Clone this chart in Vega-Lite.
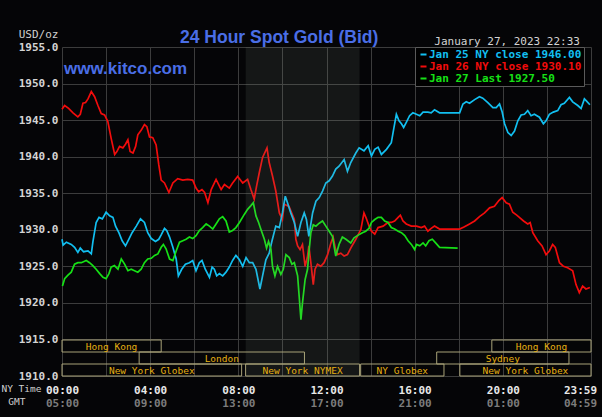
{
"$schema": "https://vega.github.io/schema/vega-lite/v6.json",
"width": 529, "height": 329,
"autosize": "none",
"padding": {"left": 62, "top": 47, "right": 11, "bottom": 41},
"background": "#050507",
"title": {"text": "24 Hour Spot Gold (Bid)", "color": "#4a6ee6", "font": "Liberation Sans", "fontSize": 17.5, "fontWeight": "bold", "anchor": "start", "frame": "group", "dx": 118, "offset": -32, "baseline": "alphabetic"},
"config": {
  "view": {"stroke": null},
  "axis": {"domain": false, "ticks": false, "labelFont": "DejaVu Sans Mono", "labelFontWeight": "bold", "labelFontSize": 11, "gridColor": "#3c3c3c", "gridWidth": 1, "titleFont": "DejaVu Sans Mono", "titleFontWeight": "normal"}
},
"datasets": {
"gold": [
{"series":"Jan 26","hour":0,"price":1946.5},{"series":"Jan 26","hour":0.12,"price":1947.0},{"series":"Jan 26","hour":0.3,"price":1946.6},{"series":"Jan 26","hour":0.5,"price":1946.0},{"series":"Jan 26","hour":0.72,"price":1945.45},{"series":"Jan 26","hour":0.83,"price":1945.8},{"series":"Jan 26","hour":0.95,"price":1947.3},{"series":"Jan 26","hour":1.07,"price":1947.4},{"series":"Jan 26","hour":1.18,"price":1947.9},{"series":"Jan 26","hour":1.33,"price":1948.9},{"series":"Jan 26","hour":1.48,"price":1948.2},{"series":"Jan 26","hour":1.63,"price":1947.0},{"series":"Jan 26","hour":1.78,"price":1945.9},{"series":"Jan 26","hour":1.93,"price":1945.7},{"series":"Jan 26","hour":2.08,"price":1944.8},{"series":"Jan 26","hour":2.23,"price":1942.5},{"series":"Jan 26","hour":2.39,"price":1940.3},{"series":"Jan 26","hour":2.49,"price":1940.7},{"series":"Jan 26","hour":2.61,"price":1941.4},{"series":"Jan 26","hour":2.76,"price":1941.2},{"series":"Jan 26","hour":2.88,"price":1941.7},{"series":"Jan 26","hour":2.99,"price":1942.3},{"series":"Jan 26","hour":3.09,"price":1940.7},{"series":"Jan 26","hour":3.22,"price":1940.5},{"series":"Jan 26","hour":3.34,"price":1941.4},{"series":"Jan 26","hour":3.44,"price":1943.0},{"series":"Jan 26","hour":3.59,"price":1943.6},{"series":"Jan 26","hour":3.74,"price":1944.4},{"series":"Jan 26","hour":3.85,"price":1944.1},{"series":"Jan 26","hour":3.97,"price":1942.7},{"series":"Jan 26","hour":4.12,"price":1942.6},{"series":"Jan 26","hour":4.27,"price":1941.6},{"series":"Jan 26","hour":4.39,"price":1938.9},{"series":"Jan 26","hour":4.5,"price":1936.8},{"series":"Jan 26","hour":4.65,"price":1936.4},{"series":"Jan 26","hour":4.85,"price":1935.1},{"series":"Jan 26","hour":5.03,"price":1936.4},{"series":"Jan 26","hour":5.25,"price":1937.0},{"series":"Jan 26","hour":5.48,"price":1936.8},{"series":"Jan 26","hour":5.7,"price":1936.9},{"series":"Jan 26","hour":5.93,"price":1936.8},{"series":"Jan 26","hour":6.08,"price":1935.7},{"series":"Jan 26","hour":6.2,"price":1935.2},{"series":"Jan 26","hour":6.35,"price":1935.5},{"series":"Jan 26","hour":6.47,"price":1935.1},{"series":"Jan 26","hour":6.62,"price":1933.7},{"series":"Jan 26","hour":6.77,"price":1935.5},{"series":"Jan 26","hour":6.99,"price":1936.9},{"series":"Jan 26","hour":7.22,"price":1935.5},{"series":"Jan 26","hour":7.37,"price":1936.2},{"series":"Jan 26","hour":7.59,"price":1935.7},{"series":"Jan 26","hour":7.74,"price":1936.4},{"series":"Jan 26","hour":7.97,"price":1937.3},{"series":"Jan 26","hour":8.2,"price":1936.4},{"series":"Jan 26","hour":8.42,"price":1936.9},{"series":"Jan 26","hour":8.57,"price":1935.5},{"series":"Jan 26","hour":8.72,"price":1934.2},{"series":"Jan 26","hour":8.83,"price":1936.0},{"series":"Jan 26","hour":8.95,"price":1937.8},{"series":"Jan 26","hour":9.1,"price":1939.9},{"series":"Jan 26","hour":9.3,"price":1941.2},{"series":"Jan 26","hour":9.4,"price":1939.2},{"series":"Jan 26","hour":9.55,"price":1937.35},{"series":"Jan 26","hour":9.7,"price":1935.3},{"series":"Jan 26","hour":9.86,"price":1932.3},{"series":"Jan 26","hour":10.0,"price":1931.4},{"series":"Jan 26","hour":10.08,"price":1933.5},{"series":"Jan 26","hour":10.3,"price":1933.2},{"series":"Jan 26","hour":10.54,"price":1931.4},{"series":"Jan 26","hour":10.61,"price":1928.7},{"series":"Jan 26","hour":10.69,"price":1927.8},{"series":"Jan 26","hour":10.8,"price":1927.3},{"series":"Jan 26","hour":10.91,"price":1928.0},{"series":"Jan 26","hour":11.03,"price":1925.0},{"series":"Jan 26","hour":11.14,"price":1926.4},{"series":"Jan 26","hour":11.2,"price":1927.8},{"series":"Jan 26","hour":11.29,"price":1925.5},{"series":"Jan 26","hour":11.4,"price":1922.5},{"series":"Jan 26","hour":11.48,"price":1924.6},{"series":"Jan 26","hour":11.59,"price":1925.3},{"series":"Jan 26","hour":11.74,"price":1925.0},{"series":"Jan 26","hour":11.89,"price":1925.5},{"series":"Jan 26","hour":12.05,"price":1926.6},{"series":"Jan 26","hour":12.2,"price":1928.2},{"series":"Jan 26","hour":12.3,"price":1929.0},{"series":"Jan 26","hour":12.4,"price":1927.5},{"series":"Jan 26","hour":12.5,"price":1926.6},{"series":"Jan 26","hour":12.65,"price":1926.8},{"series":"Jan 26","hour":12.8,"price":1926.4},{"series":"Jan 26","hour":12.95,"price":1926.6},{"series":"Jan 26","hour":13.1,"price":1927.5},{"series":"Jan 26","hour":13.33,"price":1928.7},{"series":"Jan 26","hour":13.56,"price":1930.05},{"series":"Jan 26","hour":13.7,"price":1932.3},{"series":"Jan 26","hour":13.8,"price":1931.6},{"series":"Jan 26","hour":13.93,"price":1930.5},{"series":"Jan 26","hour":14.04,"price":1929.8},{"series":"Jan 26","hour":14.19,"price":1929.4},{"series":"Jan 26","hour":14.34,"price":1930.3},{"series":"Jan 26","hour":14.57,"price":1930.5},{"series":"Jan 26","hour":14.79,"price":1931.0},{"series":"Jan 26","hour":14.94,"price":1931.0},{"series":"Jan 26","hour":15.09,"price":1931.2},{"series":"Jan 26","hour":15.25,"price":1931.7},{"series":"Jan 26","hour":15.35,"price":1932.0},{"series":"Jan 26","hour":15.47,"price":1931.2},{"series":"Jan 26","hour":15.62,"price":1930.8},{"series":"Jan 26","hour":15.85,"price":1930.5},{"series":"Jan 26","hour":16.08,"price":1930.5},{"series":"Jan 26","hour":16.3,"price":1930.3},{"series":"Jan 26","hour":16.45,"price":1930.5},{"series":"Jan 26","hour":16.6,"price":1929.8},{"series":"Jan 26","hour":16.75,"price":1930.2},{"series":"Jan 26","hour":16.9,"price":1930.5},{"series":"Jan 26","hour":17.13,"price":1930.1},{"series":"Jan 26","hour":18.04,"price":1930.1},{"series":"Jan 26","hour":18.26,"price":1930.4},{"series":"Jan 26","hour":18.49,"price":1930.8},{"series":"Jan 26","hour":18.72,"price":1931.2},{"series":"Jan 26","hour":18.94,"price":1931.8},{"series":"Jan 26","hour":19.17,"price":1932.3},{"series":"Jan 26","hour":19.4,"price":1933.0},{"series":"Jan 26","hour":19.62,"price":1933.2},{"series":"Jan 26","hour":19.82,"price":1934.0},{"series":"Jan 26","hour":19.97,"price":1934.4},{"series":"Jan 26","hour":20.15,"price":1933.7},{"series":"Jan 26","hour":20.3,"price":1933.5},{"series":"Jan 26","hour":20.45,"price":1932.4},{"series":"Jan 26","hour":20.63,"price":1932.0},{"series":"Jan 26","hour":20.75,"price":1931.7},{"series":"Jan 26","hour":20.94,"price":1931.2},{"series":"Jan 26","hour":21.13,"price":1930.8},{"series":"Jan 26","hour":21.24,"price":1931.0},{"series":"Jan 26","hour":21.36,"price":1929.6},{"series":"Jan 26","hour":21.58,"price":1928.5},{"series":"Jan 26","hour":21.78,"price":1927.8},{"series":"Jan 26","hour":21.96,"price":1926.6},{"series":"Jan 26","hour":22.11,"price":1927.1},{"series":"Jan 26","hour":22.26,"price":1928.0},{"series":"Jan 26","hour":22.38,"price":1927.6},{"series":"Jan 26","hour":22.57,"price":1925.5},{"series":"Jan 26","hour":22.75,"price":1925.0},{"series":"Jan 26","hour":22.94,"price":1924.8},{"series":"Jan 26","hour":23.17,"price":1924.4},{"series":"Jan 26","hour":23.32,"price":1922.5},{"series":"Jan 26","hour":23.47,"price":1921.4},{"series":"Jan 26","hour":23.62,"price":1922.3},{"series":"Jan 26","hour":23.77,"price":1921.9},{"series":"Jan 26","hour":23.95,"price":1922.1},
{"series":"Jan 25","hour":0,"price":1928.7},{"series":"Jan 25","hour":0.05,"price":1927.9},{"series":"Jan 25","hour":0.2,"price":1928.3},{"series":"Jan 25","hour":0.42,"price":1928.0},{"series":"Jan 25","hour":0.57,"price":1927.6},{"series":"Jan 25","hour":0.72,"price":1926.9},{"series":"Jan 25","hour":0.83,"price":1927.5},{"series":"Jan 25","hour":0.98,"price":1927.0},{"series":"Jan 25","hour":1.18,"price":1927.1},{"series":"Jan 25","hour":1.33,"price":1926.7},{"series":"Jan 25","hour":1.4,"price":1928.3},{"series":"Jan 25","hour":1.55,"price":1931.0},{"series":"Jan 25","hour":1.68,"price":1931.7},{"series":"Jan 25","hour":1.83,"price":1931.5},{"series":"Jan 25","hour":2.0,"price":1932.4},{"series":"Jan 25","hour":2.16,"price":1931.9},{"series":"Jan 25","hour":2.31,"price":1931.7},{"series":"Jan 25","hour":2.43,"price":1930.5},{"series":"Jan 25","hour":2.58,"price":1929.6},{"series":"Jan 25","hour":2.73,"price":1928.5},{"series":"Jan 25","hour":2.88,"price":1927.8},{"series":"Jan 25","hour":3.03,"price":1928.7},{"series":"Jan 25","hour":3.18,"price":1929.6},{"series":"Jan 25","hour":3.37,"price":1930.5},{"series":"Jan 25","hour":3.56,"price":1931.5},{"series":"Jan 25","hour":3.74,"price":1931.0},{"series":"Jan 25","hour":3.89,"price":1929.6},{"series":"Jan 25","hour":4.05,"price":1928.8},{"series":"Jan 25","hour":4.24,"price":1928.4},{"series":"Jan 25","hour":4.39,"price":1928.7},{"series":"Jan 25","hour":4.5,"price":1929.3},{"series":"Jan 25","hour":4.65,"price":1930.2},{"series":"Jan 25","hour":4.75,"price":1929.9},{"series":"Jan 25","hour":4.88,"price":1929.0},{"series":"Jan 25","hour":5.03,"price":1927.6},{"series":"Jan 25","hour":5.18,"price":1926.0},{"series":"Jan 25","hour":5.28,"price":1923.7},{"series":"Jan 25","hour":5.43,"price":1924.6},{"series":"Jan 25","hour":5.6,"price":1925.3},{"series":"Jan 25","hour":5.78,"price":1925.5},{"series":"Jan 25","hour":5.93,"price":1925.8},{"series":"Jan 25","hour":6.08,"price":1924.4},{"series":"Jan 25","hour":6.23,"price":1925.5},{"series":"Jan 25","hour":6.35,"price":1925.8},{"series":"Jan 25","hour":6.5,"price":1924.6},{"series":"Jan 25","hour":6.69,"price":1923.5},{"series":"Jan 25","hour":6.81,"price":1924.9},{"series":"Jan 25","hour":6.91,"price":1924.6},{"series":"Jan 25","hour":7.02,"price":1923.7},{"series":"Jan 25","hour":7.14,"price":1924.0},{"series":"Jan 25","hour":7.29,"price":1923.7},{"series":"Jan 25","hour":7.44,"price":1924.2},{"series":"Jan 25","hour":7.59,"price":1924.9},{"series":"Jan 25","hour":7.74,"price":1925.8},{"series":"Jan 25","hour":7.89,"price":1926.5},{"series":"Jan 25","hour":8.05,"price":1925.9},{"series":"Jan 25","hour":8.2,"price":1925.0},{"series":"Jan 25","hour":8.35,"price":1926.2},{"series":"Jan 25","hour":8.5,"price":1925.5},{"series":"Jan 25","hour":8.65,"price":1925.5},{"series":"Jan 25","hour":8.8,"price":1924.6},{"series":"Jan 25","hour":8.98,"price":1921.9},{"series":"Jan 25","hour":9.1,"price":1923.7},{"series":"Jan 25","hour":9.25,"price":1925.9},{"series":"Jan 25","hour":9.4,"price":1926.8},{"series":"Jan 25","hour":9.52,"price":1928.4},{"series":"Jan 25","hour":9.7,"price":1930.5},{"series":"Jan 25","hour":9.86,"price":1930.3},{"series":"Jan 25","hour":10.0,"price":1932.3},{"series":"Jan 25","hour":10.13,"price":1934.6},{"series":"Jan 25","hour":10.23,"price":1933.7},{"series":"Jan 25","hour":10.38,"price":1932.3},{"series":"Jan 25","hour":10.54,"price":1931.0},{"series":"Jan 25","hour":10.69,"price":1929.1},{"series":"Jan 25","hour":10.84,"price":1931.0},{"series":"Jan 25","hour":10.99,"price":1932.3},{"series":"Jan 25","hour":11.09,"price":1931.4},{"series":"Jan 25","hour":11.2,"price":1929.1},{"series":"Jan 25","hour":11.37,"price":1932.3},{"series":"Jan 25","hour":11.52,"price":1933.9},{"series":"Jan 25","hour":11.67,"price":1934.4},{"series":"Jan 25","hour":11.82,"price":1935.3},{"series":"Jan 25","hour":11.97,"price":1936.4},{"series":"Jan 25","hour":12.12,"price":1936.7},{"series":"Jan 25","hour":12.27,"price":1937.35},{"series":"Jan 25","hour":12.42,"price":1938.3},{"series":"Jan 25","hour":12.57,"price":1938.7},{"series":"Jan 25","hour":12.8,"price":1939.6},{"series":"Jan 25","hour":12.95,"price":1938.0},{"series":"Jan 25","hour":13.1,"price":1939.2},{"series":"Jan 25","hour":13.33,"price":1940.5},{"series":"Jan 25","hour":13.48,"price":1941.2},{"series":"Jan 25","hour":13.7,"price":1940.8},{"series":"Jan 25","hour":13.89,"price":1941.5},{"series":"Jan 25","hour":14.04,"price":1940.1},{"series":"Jan 25","hour":14.19,"price":1941.0},{"series":"Jan 25","hour":14.34,"price":1941.3},{"series":"Jan 25","hour":14.49,"price":1940.3},{"series":"Jan 25","hour":14.72,"price":1941.0},{"series":"Jan 25","hour":14.94,"price":1941.9},{"series":"Jan 25","hour":15.05,"price":1943.8},{"series":"Jan 25","hour":15.17,"price":1945.8},{"series":"Jan 25","hour":15.29,"price":1944.9},{"series":"Jan 25","hour":15.4,"price":1944.5},{"series":"Jan 25","hour":15.5,"price":1944.0},{"series":"Jan 25","hour":15.62,"price":1944.7},{"series":"Jan 25","hour":15.77,"price":1945.6},{"series":"Jan 25","hour":15.92,"price":1946.0},{"series":"Jan 25","hour":16.08,"price":1945.8},{"series":"Jan 25","hour":16.23,"price":1945.6},{"series":"Jan 25","hour":16.38,"price":1946.1},{"series":"Jan 25","hour":16.6,"price":1946.1},{"series":"Jan 25","hour":16.75,"price":1946.0},{"series":"Jan 25","hour":16.9,"price":1946.4},{"series":"Jan 25","hour":17.13,"price":1946.0},{"series":"Jan 25","hour":18.04,"price":1946.0},{"series":"Jan 25","hour":18.19,"price":1947.2},{"series":"Jan 25","hour":18.34,"price":1947.5},{"series":"Jan 25","hour":18.49,"price":1947.3},{"series":"Jan 25","hour":18.72,"price":1947.8},{"series":"Jan 25","hour":18.94,"price":1948.2},{"series":"Jan 25","hour":19.09,"price":1948.0},{"series":"Jan 25","hour":19.32,"price":1947.4},{"series":"Jan 25","hour":19.55,"price":1946.7},{"series":"Jan 25","hour":19.7,"price":1946.7},{"series":"Jan 25","hour":19.85,"price":1947.2},{"series":"Jan 25","hour":19.97,"price":1946.1},{"series":"Jan 25","hour":20.08,"price":1944.5},{"series":"Jan 25","hour":20.23,"price":1943.3},{"series":"Jan 25","hour":20.38,"price":1942.9},{"series":"Jan 25","hour":20.53,"price":1943.5},{"series":"Jan 25","hour":20.68,"price":1944.9},{"series":"Jan 25","hour":20.83,"price":1945.7},{"series":"Jan 25","hour":20.98,"price":1945.8},{"series":"Jan 25","hour":21.13,"price":1946.3},{"series":"Jan 25","hour":21.28,"price":1945.6},{"series":"Jan 25","hour":21.43,"price":1945.8},{"series":"Jan 25","hour":21.66,"price":1945.4},{"series":"Jan 25","hour":21.84,"price":1944.5},{"series":"Jan 25","hour":21.96,"price":1944.9},{"series":"Jan 25","hour":22.11,"price":1945.8},{"series":"Jan 25","hour":22.29,"price":1946.1},{"series":"Jan 25","hour":22.49,"price":1946.3},{"series":"Jan 25","hour":22.64,"price":1947.1},{"series":"Jan 25","hour":22.79,"price":1947.3},{"series":"Jan 25","hour":23.02,"price":1948.1},{"series":"Jan 25","hour":23.17,"price":1947.5},{"series":"Jan 25","hour":23.4,"price":1947.0},{"series":"Jan 25","hour":23.55,"price":1946.6},{"series":"Jan 25","hour":23.7,"price":1947.9},{"series":"Jan 25","hour":23.8,"price":1947.6},{"series":"Jan 25","hour":23.95,"price":1947.1},
{"series":"Jan 27","hour":0.02,"price":1922.3},{"series":"Jan 27","hour":0.12,"price":1923.3},{"series":"Jan 27","hour":0.27,"price":1923.8},{"series":"Jan 27","hour":0.42,"price":1924.2},{"series":"Jan 27","hour":0.57,"price":1925.3},{"series":"Jan 27","hour":0.72,"price":1925.5},{"series":"Jan 27","hour":0.88,"price":1925.5},{"series":"Jan 27","hour":1.1,"price":1925.8},{"series":"Jan 27","hour":1.25,"price":1925.5},{"series":"Jan 27","hour":1.4,"price":1925.1},{"series":"Jan 27","hour":1.55,"price":1924.6},{"series":"Jan 27","hour":1.71,"price":1924.0},{"series":"Jan 27","hour":1.86,"price":1923.5},{"series":"Jan 27","hour":2.0,"price":1923.3},{"series":"Jan 27","hour":2.13,"price":1924.0},{"series":"Jan 27","hour":2.23,"price":1924.9},{"series":"Jan 27","hour":2.38,"price":1925.1},{"series":"Jan 27","hour":2.54,"price":1924.6},{"series":"Jan 27","hour":2.69,"price":1926.0},{"series":"Jan 27","hour":2.84,"price":1925.3},{"series":"Jan 27","hour":2.99,"price":1924.4},{"series":"Jan 27","hour":3.14,"price":1924.6},{"series":"Jan 27","hour":3.29,"price":1924.4},{"series":"Jan 27","hour":3.44,"price":1924.2},{"series":"Jan 27","hour":3.59,"price":1924.6},{"series":"Jan 27","hour":3.74,"price":1925.5},{"series":"Jan 27","hour":3.89,"price":1926.0},{"series":"Jan 27","hour":4.05,"price":1926.1},{"series":"Jan 27","hour":4.2,"price":1926.5},{"series":"Jan 27","hour":4.35,"price":1926.7},{"series":"Jan 27","hour":4.5,"price":1927.6},{"series":"Jan 27","hour":4.6,"price":1928.0},{"series":"Jan 27","hour":4.72,"price":1927.4},{"series":"Jan 27","hour":4.88,"price":1926.0},{"series":"Jan 27","hour":5.03,"price":1925.8},{"series":"Jan 27","hour":5.18,"price":1927.1},{"series":"Jan 27","hour":5.33,"price":1928.3},{"series":"Jan 27","hour":5.48,"price":1928.5},{"series":"Jan 27","hour":5.63,"price":1928.7},{"series":"Jan 27","hour":5.78,"price":1929.0},{"series":"Jan 27","hour":5.93,"price":1928.8},{"series":"Jan 27","hour":6.08,"price":1929.2},{"series":"Jan 27","hour":6.23,"price":1929.9},{"series":"Jan 27","hour":6.38,"price":1930.3},{"series":"Jan 27","hour":6.54,"price":1930.8},{"series":"Jan 27","hour":6.69,"price":1930.5},{"series":"Jan 27","hour":6.84,"price":1930.1},{"series":"Jan 27","hour":6.99,"price":1930.8},{"series":"Jan 27","hour":7.14,"price":1931.5},{"series":"Jan 27","hour":7.29,"price":1931.8},{"series":"Jan 27","hour":7.44,"price":1931.2},{"series":"Jan 27","hour":7.59,"price":1929.7},{"series":"Jan 27","hour":7.74,"price":1929.9},{"series":"Jan 27","hour":7.89,"price":1930.3},{"series":"Jan 27","hour":8.05,"price":1931.0},{"series":"Jan 27","hour":8.27,"price":1932.1},{"series":"Jan 27","hour":8.42,"price":1932.8},{"series":"Jan 27","hour":8.57,"price":1933.3},{"series":"Jan 27","hour":8.68,"price":1933.7},{"series":"Jan 27","hour":8.8,"price":1931.9},{"series":"Jan 27","hour":8.92,"price":1931.0},{"series":"Jan 27","hour":9.03,"price":1930.0},{"series":"Jan 27","hour":9.18,"price":1928.7},{"series":"Jan 27","hour":9.28,"price":1927.5},{"series":"Jan 27","hour":9.37,"price":1928.4},{"series":"Jan 27","hour":9.48,"price":1927.3},{"series":"Jan 27","hour":9.55,"price":1925.0},{"series":"Jan 27","hour":9.66,"price":1923.7},{"series":"Jan 27","hour":9.78,"price":1925.0},{"series":"Jan 27","hour":9.93,"price":1923.9},{"series":"Jan 27","hour":10.04,"price":1924.6},{"series":"Jan 27","hour":10.16,"price":1926.6},{"series":"Jan 27","hour":10.31,"price":1926.2},{"series":"Jan 27","hour":10.43,"price":1925.3},{"series":"Jan 27","hour":10.54,"price":1925.5},{"series":"Jan 27","hour":10.69,"price":1923.7},{"series":"Jan 27","hour":10.76,"price":1920.9},{"series":"Jan 27","hour":10.84,"price":1917.7},{"series":"Jan 27","hour":10.91,"price":1920.0},{"series":"Jan 27","hour":11.03,"price":1923.2},{"series":"Jan 27","hour":11.14,"price":1924.6},{"series":"Jan 27","hour":11.2,"price":1926.8},{"series":"Jan 27","hour":11.29,"price":1929.6},{"series":"Jan 27","hour":11.4,"price":1930.7},{"series":"Jan 27","hour":11.52,"price":1930.5},{"series":"Jan 27","hour":11.67,"price":1930.9},{"series":"Jan 27","hour":11.82,"price":1931.2},{"series":"Jan 27","hour":11.97,"price":1930.5},{"series":"Jan 27","hour":12.12,"price":1929.8},{"series":"Jan 27","hour":12.27,"price":1929.1},{"series":"Jan 27","hour":12.42,"price":1926.4},{"series":"Jan 27","hour":12.57,"price":1928.0},{"series":"Jan 27","hour":12.72,"price":1929.0},{"series":"Jan 27","hour":12.88,"price":1928.7},{"series":"Jan 27","hour":13.1,"price":1928.2},{"series":"Jan 27","hour":13.25,"price":1928.9},{"series":"Jan 27","hour":13.4,"price":1929.2},{"series":"Jan 27","hour":13.63,"price":1929.6},{"series":"Jan 27","hour":13.78,"price":1929.8},{"series":"Jan 27","hour":13.93,"price":1930.2},{"series":"Jan 27","hour":14.04,"price":1931.0},{"series":"Jan 27","hour":14.19,"price":1931.4},{"series":"Jan 27","hour":14.34,"price":1931.7},{"series":"Jan 27","hour":14.49,"price":1931.7},{"series":"Jan 27","hour":14.64,"price":1931.2},{"series":"Jan 27","hour":14.79,"price":1931.0},{"series":"Jan 27","hour":14.94,"price":1930.3},{"series":"Jan 27","hour":15.09,"price":1930.1},{"series":"Jan 27","hour":15.25,"price":1929.8},{"series":"Jan 27","hour":15.4,"price":1929.6},{"series":"Jan 27","hour":15.55,"price":1929.2},{"series":"Jan 27","hour":15.7,"price":1928.5},{"series":"Jan 27","hour":15.85,"price":1928.0},{"series":"Jan 27","hour":16.0,"price":1927.3},{"series":"Jan 27","hour":16.08,"price":1928.0},{"series":"Jan 27","hour":16.23,"price":1927.8},{"series":"Jan 27","hour":16.38,"price":1928.2},{"series":"Jan 27","hour":16.5,"price":1927.8},{"series":"Jan 27","hour":16.65,"price":1928.5},{"series":"Jan 27","hour":16.8,"price":1928.7},{"series":"Jan 27","hour":16.95,"price":1928.2},{"series":"Jan 27","hour":17.13,"price":1927.6},{"series":"Jan 27","hour":17.95,"price":1927.5}
],
"sessions": [
{"name":"Hong Kong","lane":1,"start":0,"end":4.5},
{"name":"Hong Kong","lane":1,"start":19.5,"end":24},
{"name":"London","lane":2,"start":3.5,"end":11},
{"name":"Sydney","lane":2,"start":17,"end":23},
{"name":"New York Globex","lane":3,"start":0,"end":8.15},
{"name":"New York NYMEX","lane":3,"start":8.33,"end":13.5},
{"name":"NY Globex","lane":3,"start":13.55,"end":17.33},
{"name":"New York Globex","lane":3,"start":18.05,"end":24}
]
},
"layer": [
{
  "data": {"name": "gold"},
  "mark": {"type": "line", "strokeWidth": 1.7},
  "encoding": {
    "x": {"field": "hour", "type": "quantitative", "scale": {"domain": [0, 24], "nice": false, "zero": false},
      "axis": {"orient": "bottom", "values": [0, 2, 4, 6, 8, 10, 12, 14, 16, 18, 20, 22, 24],
        "labelExpr": "datum.value % 4 != 0 ? '' : datum.value == 24 ? '23:59' : (datum.value < 10 ? '0' : '') + datum.value + ':00'",
        "labelColor": "#e8e8e8", "labelPadding": 8, "labelFlush": false, "labelOverlap": false,
        "labelOffset": {"condition": {"test": "datum.value == 24", "value": -11}, "value": 0},
        "title": "NY Time", "titleColor": "#d0d0d0", "titleFontSize": 9.5, "titleAngle": 0, "titleAlign": "right", "titleBaseline": "middle", "titleX": -21, "titleY": 12}},
    "y": {"field": "price", "type": "quantitative", "scale": {"domain": [1910, 1955], "nice": false, "zero": false},
      "axis": {"values": [1910, 1915, 1920, 1925, 1930, 1935, 1940, 1945, 1950, 1955], "format": ".1f", "labelColor": "#d4d4d4", "labelPadding": 4,
        "title": "USD/oz", "titleColor": "#d0d0d0", "titleFontSize": 11, "titleAngle": 0, "titleAlign": "right", "titleBaseline": "middle", "titleX": -4, "titleY": -13}},
    "color": {"field": "series", "type": "nominal",
      "scale": {"domain": ["Jan 25", "Jan 26", "Jan 27"], "range": ["#12bff0", "#f20c0c", "#16e016"]},
      "legend": {"orient": "none", "legendX": 353, "legendY": 0, "title": null, "direction": "vertical",
        "fillColor": "#000000", "strokeColor": "#5a5a5a", "padding": 2, "symbolOffset": 1,
        "symbolType": "stroke", "symbolSize": 36, "symbolStrokeWidth": 2, "labelOffset": 0,
        "labelFont": "DejaVu Sans Mono", "labelFontSize": 11, "labelFontWeight": "bold", "rowPadding": 0, "labelLimit": 300,
        "labelExpr": "datum.label == 'Jan 25' ? 'Jan 25 NY close 1946.00' : datum.label == 'Jan 26' ? 'Jan 26 NY close 1930.10' : 'Jan 27 Last 1927.50'",
        "encode": {"labels": {"update": {"fill": {"signal": "scale('color', datum.value)"}}}}}}
  }
},
{
  "data": {"values": [{"session": "NYMEX floor", "start": 8.333, "end": 13.5}]},
  "mark": {"type": "rect", "fill": "#8fa08f", "opacity": 0.12},
  "encoding": {
    "x": {"field": "start", "type": "quantitative", "scale": {"domain": [0, 24], "nice": false, "zero": false}, "axis": null},
    "x2": {"field": "end"}
  }
},
{
  "data": {"name": "sessions"},
  "mark": {"type": "rect", "fill": "transparent", "stroke": "#a8a278", "strokeWidth": 1},
  "encoding": {
    "x": {"field": "start", "type": "quantitative", "scale": {"domain": [0, 24], "nice": false, "zero": false},
      "axis": {"orient": "bottom", "offset": 13, "grid": false, "values": [0, 4, 8, 12, 16, 20, 24],
        "labelExpr": "datum.value == 24 ? '04:59' : (((datum.value + 5) % 24) < 10 ? '0' : '') + ((datum.value + 5) % 24) + ':00'",
        "labelColor": "#7c7c7c", "labelPadding": 8, "labelFlush": false, "labelOverlap": false,
        "labelOffset": {"condition": {"test": "datum.value == 24", "value": -11}, "value": 0},
        "title": "GMT", "titleColor": "#d0d0d0", "titleFontSize": 9.5, "titleAngle": 0, "titleAlign": "right", "titleBaseline": "middle", "titleX": -37, "titleY": 12}},
    "x2": {"field": "end"},
    "y": {"field": "lane", "type": "ordinal", "scale": {"domain": [1, 2, 3], "range": [293, 329], "paddingInner": 0, "paddingOuter": 0}, "axis": null}
  }
},
{
  "data": {"name": "sessions"},
  "transform": [{"calculate": "(datum.start + datum.end) / 2", "as": "mid"}],
  "mark": {"type": "text", "color": "#e6b012", "font": "DejaVu Sans Mono", "fontSize": 9.5, "align": "center", "baseline": "middle", "dy": 1},
  "encoding": {
    "x": {"field": "mid", "type": "quantitative", "scale": {"domain": [0, 24], "nice": false, "zero": false}, "axis": null},
    "y": {"field": "lane", "type": "ordinal", "scale": {"domain": [1, 2, 3], "range": [293, 329], "paddingInner": 0, "paddingOuter": 0}, "axis": null},
    "text": {"field": "name"}
  }
},
{
  "data": {"values": [{"label": "www.kitco.com"}]},
  "mark": {"type": "text", "color": "#4a6ee6", "font": "Liberation Sans", "fontSize": 17, "fontWeight": "bold", "align": "left", "baseline": "alphabetic"},
  "encoding": {
    "x": {"datum": 0.09, "type": "quantitative", "scale": {"domain": [0, 24], "nice": false, "zero": false}, "axis": null},
    "y": {"datum": 1951.3, "type": "quantitative", "scale": {"domain": [1910, 1955], "nice": false, "zero": false}, "axis": null},
    "text": {"field": "label"}
  }
},
{
  "data": {"values": [{"label": "January 27, 2023 22:33"}]},
  "mark": {"type": "text", "color": "#d4d4d4", "font": "DejaVu Sans Mono", "fontSize": 11, "align": "right", "baseline": "alphabetic"},
  "encoding": {
    "x": {"datum": 23.5, "type": "quantitative", "scale": {"domain": [0, 24], "nice": false, "zero": false}, "axis": null},
    "y": {"datum": 1955.34, "type": "quantitative", "scale": {"domain": [1910, 1955], "nice": false, "zero": false}, "axis": null},
    "text": {"field": "label"}
  }
}
],
"resolve": {"scale": {"y": "independent"}, "axis": {"x": "independent"}}
}
